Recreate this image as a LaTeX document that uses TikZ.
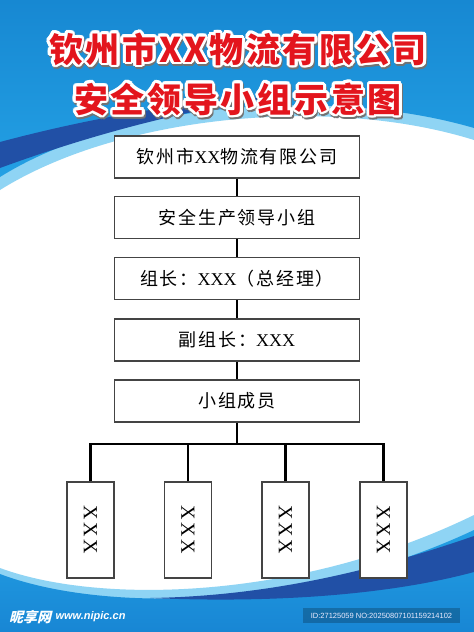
\documentclass[tikz,border=0pt]{standalone}
\usepackage{fontspec}
\setmainfont{Liberation Serif}
\newfontfamily\cjk[LetterSpace=10]{Noto Sans CJK SC}
\newfontfamily\titlecjk[LetterSpace=8]{Noto Sans CJK SC}
\newfontfamily\markcjk[FakeSlant=0.25]{Noto Sans CJK SC}
\newfontfamily\marksans{Liberation Sans}
\newfontfamily\xfont[LetterSpace=12]{Liberation Serif}
\usetikzlibrary{positioning}

\definecolor{skytop}{HTML}{1788D2}
\definecolor{skyblue}{HTML}{23A0E4}
\definecolor{paleband}{HTML}{8FD4F4}
\definecolor{deepband}{HTML}{2150A6}
\definecolor{seablue}{HTML}{1886D4}
\definecolor{titlered}{HTML}{E3151D}
\definecolor{boxline}{HTML}{444444}

% red title with white rim and soft shadow
\newcommand\headtext[2]{%
  \foreach \a in {0,30,...,330}
    \node[headline, text=black!55] at ([shift={(\a:2.8)}, xshift=1pt, yshift=-2pt]#1) {#2};
  \foreach \a in {0,20,...,340}
    \node[headline, text=white] at ([shift={(\a:2.8)}]#1) {#2};
  \node[headline, text=titlered] (#1 red) at (#1) {#2};
}

\begin{document}
\begin{tikzpicture}[x=1pt, y=-1pt,
    orgbox/.style={draw=boxline, fill=white, line width=1.1pt, minimum width=245pt, minimum height=42pt, inner sep=0pt, font=\cjk\fontsize{18}{18}\selectfont},
    member/.style={draw=boxline, fill=white, line width=1.1pt, minimum width=47pt, minimum height=96pt, inner sep=0pt, font=\xfont\fontsize{20}{20}\selectfont},
    link/.style={line width=2.4pt, black},
    headline/.style={font=\titlecjk\bfseries\fontsize{34}{34}\selectfont, inner sep=0pt}]
    \useasboundingbox (0,0) rectangle (474,632);
    \fill[white] (0,0) rectangle (474,632);

    % top background
    \fill[paleband] (0,0) -- (474,0) -- (474,140) .. controls (330,95) and (120,115) .. (0,190) -- cycle;
    \shade[top color=skytop, bottom color=skyblue] (0,0) -- (474,0) -- (474,128) .. controls (330,86) and (120,102) .. (0,177) -- cycle;
    \fill[deepband] (0,142) .. controls (90,118) and (190,100) .. (285,96) .. controls (190,108) and (90,135) .. (0,168) -- cycle;

    % bottom background
    \fill[paleband] (0,568) .. controls (100,605) and (300,600) .. (474,515) -- (474,632) -- (0,632) -- cycle;
    \shade[top color=skyblue, bottom color=seablue] (0,574) .. controls (100,612) and (300,612) .. (474,530) -- (474,632) -- (0,632) -- cycle;
    \fill[deepband] (150,598) .. controls (280,596) and (390,565) .. (474,536) -- (474,572) .. controls (400,592) and (290,604) .. (150,598) -- cycle;

    % title
    \coordinate (t1) at (238,49);
    \coordinate (t2) at (238,99);
    \headtext{t1}{钦州市XX物流有限公司}
    \headtext{t2}{安全领导小组示意图}

    % chain of boxes
    \node[orgbox] (b1) at (237,157) {钦州市{\rmfamily XX}物流有限公司};
    \node[orgbox] (b2) at (237,217.5) {安全生产领导小组};
    \node[orgbox] (b3) at (237,278.5) {组长：{\rmfamily XXX}（总经理）};
    \node[orgbox] (b4) at (237,340) {副组长：{\rmfamily XXX}};
    \node[orgbox] (b5) at (237,401) {小组成员};

    % members
    \node[member] (m1) at (90.5,530) {\rotatebox{-90}{XXX}};
    \node[member] (m2) at (188,530) {\rotatebox{-90}{XXX}};
    \node[member] (m3) at (285.5,530) {\rotatebox{-90}{XXX}};
    \node[member] (m4) at (383.5,530) {\rotatebox{-90}{XXX}};

    % connections
    \draw[link] (b1) -- (b2);
    \draw[link] (b2) -- (b3);
    \draw[link] (b3) -- (b4);
    \draw[link] (b4) -- (b5);
    \coordinate (fork) at (237,444);
    \draw[link] (b5) -- (fork);
    \draw[link] (m1.north) |- (fork) -| (m4.north);
    \foreach \m in {m2,m3}
        \draw[link] (\m.north) -- (\m.north |- fork);

    % watermark
    \node[font=\markcjk\bfseries\fontsize{14}{14}\selectfont, text=white, anchor=west, inner sep=0pt] (brand) at (9,617) {昵享网};
    \node[font=\marksans\bfseries\itshape\fontsize{11}{11}\selectfont, text=white, inner sep=0pt, right=4pt of brand] (site) {www.nipic.cn};
    \node[fill=black, fill opacity=0.22, text opacity=1, text=white!92!blue, font=\marksans\fontsize{7.5}{7.5}\selectfont, minimum width=157pt, minimum height=15pt, inner sep=0pt] (stamp) at (381.5,615.5) {ID:27125059 NO:20250807101159214102};
\end{tikzpicture}
\end{document}
